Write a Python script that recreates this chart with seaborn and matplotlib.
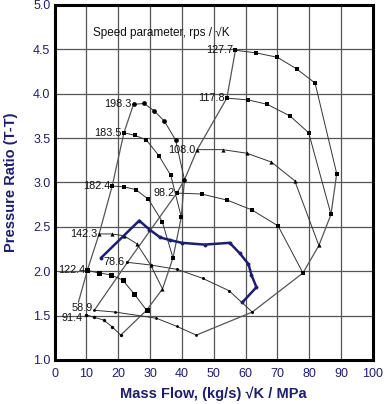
import numpy as np
import pandas as pd
import matplotlib
matplotlib.use('Agg')
from matplotlib import pyplot as plt
import seaborn as sns

# speed lines, right-hand map
x_1277 = [56.8, 63.3, 70.0, 76.0, 81.8, 88.6]
y_1277 = [4.49, 4.46, 4.41, 4.28, 4.12, 3.10]
x_1178 = [54.1, 60.9, 66.8, 73.9, 79.8, 86.8]
y_1178 = [3.95, 3.93, 3.88, 3.75, 3.56, 2.64]
x_1080 = [44.8, 52.8, 60.3, 68.1, 75.4, 83.0]
y_1080 = [3.37, 3.37, 3.33, 3.23, 3.02, 2.29]
x_982 = [38.4, 46.2, 54.3, 62.0, 70.2, 78.0]
y_982 = [2.88, 2.87, 2.80, 2.69, 2.51, 1.98]
x_786 = [22.9, 30.2, 38.6, 46.5, 54.8, 62.1]
y_786 = [2.10, 2.07, 2.02, 1.92, 1.78, 1.54]
x_589 = [12.5, 19.0, 32.0, 38.3, 44.5]
y_589 = [1.56, 1.54, 1.47, 1.38, 1.28]
# surge / choke of right-hand map
x_surge_r = [12.5, 22.9, 38.4, 40.8, 44.8, 54.1, 56.8]
y_surge_r = [1.56, 2.10, 2.88, 3.03, 3.37, 3.95, 4.49]
x_choke_r = [88.6, 86.8, 83.0, 78.0, 62.1, 44.5]
y_choke_r = [3.10, 2.64, 2.29, 1.98, 1.54, 1.28]

# speed lines, left-hand map
x_1983 = [24.8, 28.1, 31.2, 34.5, 38.0, 40.8]
y_1983 = [3.88, 3.89, 3.81, 3.69, 3.48, 3.03]
x_1835 = [21.8, 25.3, 28.8, 32.8, 36.5, 39.8]
y_1835 = [3.56, 3.53, 3.48, 3.30, 3.08, 2.61]
x_1824 = [18.1, 21.9, 25.5, 29.5, 33.8, 37.2]
y_1824 = [2.96, 2.95, 2.92, 2.81, 2.56, 2.15]
x_1423 = [14.0, 17.9, 21.8, 25.8, 30.2, 33.9]
y_1423 = [2.42, 2.42, 2.40, 2.31, 2.07, 1.80]
x_1224 = [10.3, 13.9, 17.6, 21.4, 25.1, 28.9]
y_1224 = [2.01, 1.98, 1.96, 1.90, 1.74, 1.56]
x_914 = [9.9, 12.5, 15.4, 18.2, 20.8]
y_914 = [1.51, 1.48, 1.45, 1.37, 1.28]
x_surge_l = [7.5, 10.3, 14.0, 18.1, 21.8, 24.8]
y_surge_l = [1.65, 2.01, 2.42, 2.96, 3.56, 3.88]
x_choke_l = [20.8, 28.9, 33.9, 37.2, 39.8, 40.8]
y_choke_l = [1.28, 1.56, 1.80, 2.15, 2.61, 3.03]

# operating line
x_op = [14.6, 26.6, 29.8, 33.2, 36.4, 39.9, 47.1, 55.0, 58.2, 60.9, 61.8, 63.4, 59.0]
y_op = [2.15, 2.57, 2.47, 2.38, 2.35, 2.32, 2.30, 2.32, 2.20, 2.08, 1.96, 1.82, 1.65]

speed_names = ['127.7', '117.8', '108.0', '98.2', '78.6', '58.9',
               '198.3', '183.5', '182.4', '142.3', '122.4', '91.4']

sns.set_theme(style='white')
plt.rcParams['font.family'] = ['Liberation Sans', 'DejaVu Sans']

navy = '#1e1e6e'
fig = plt.figure(figsize=(3.85, 4.04), dpi=100)
ax = fig.add_axes([0.1416, 0.109, 0.8273, 0.8787])

# surge and choke lines (no markers)
for xs, ys in [(x_surge_r, y_surge_r), (x_choke_r, y_choke_r),
               (x_surge_l, y_surge_l), (x_choke_l, y_choke_l)]:
    sns.lineplot(x=xs, y=ys, sort=False, estimator=None, color='#555555',
                 linewidth=0.9, ax=ax, legend=False)

speed_lines = [
    (x_1277, y_1277, 's', 3.2), (x_1178, y_1178, 's', 3.0),
    (x_1080, y_1080, '^', 3.0), (x_982, y_982, 's', 3.2),
    (x_786, y_786, 'o', 2.2), (x_589, y_589, 'o', 2.0),
    (x_1983, y_1983, 'o', 3.4), (x_1835, y_1835, 's', 3.2),
    (x_1824, y_1824, 's', 3.2), (x_1423, y_1423, '^', 3.0),
    (x_1224, y_1224, 's', 3.6), (x_914, y_914, 'o', 2.4),
]
# label nudges (points) so that neighbouring labels don't collide
label_shift = {'58.9': (-1.0, 1.6), '91.4': (-2.2, -2.4), '78.6': (-2.0, 0.0)}
for (xs, ys, mk, ms), name in zip(speed_lines, speed_names):
    sns.lineplot(x=xs, y=ys, sort=False, estimator=None, color='#333333',
                 linewidth=0.7, marker=mk, markersize=ms, markeredgewidth=0,
                 markerfacecolor='black', ax=ax, legend=False)
    ax.annotate(name, (xs[0], ys[0]), xytext=label_shift.get(name, (-1.5, 0)),
                textcoords='offset points', ha='right', va='center',
                fontsize=7.8, color='#111111')

sns.lineplot(x=x_op, y=y_op, sort=False, estimator=None, color=navy,
             linewidth=1.8, marker='o', markersize=2.8, markeredgewidth=0,
             ax=ax, legend=False)

ax.text(12.0, 4.69, 'Speed parameter, rps / \u221aK', fontsize=8.5,
        ha='left', va='center', color='#111111')

ax.set_xlim(0, 100)
ax.set_ylim(1.0, 5.0)
ax.set_xticks(np.arange(0, 101, 10))
ax.set_yticks(np.arange(1.0, 5.01, 0.5))
ax.set_yticklabels([f'{v:.1f}' for v in np.arange(1.0, 5.01, 0.5)])
ax.grid(True, color='#555555', linewidth=0.9)
ax.set_axisbelow(True)
for sp in ax.spines.values():
    sp.set_color('black')
    sp.set_linewidth(2.2)
ax.tick_params(axis='both', length=0, labelsize=9, colors=navy)
ax.tick_params(axis='x', pad=6)
ax.tick_params(axis='y', pad=3)

ax.set_xlabel('Mass Flow, (kg/s) \u221aK / MPa', fontsize=10.5, fontweight='bold', color=navy)
ax.set_ylabel('Pressure Ratio (T-T)', fontsize=10.5, fontweight='bold', color=navy)
ax.xaxis.set_label_coords(0.50, -0.076)
ax.yaxis.set_label_coords(-0.115, 0.5)

fig.savefig('out.png', dpi=100, facecolor='white')
